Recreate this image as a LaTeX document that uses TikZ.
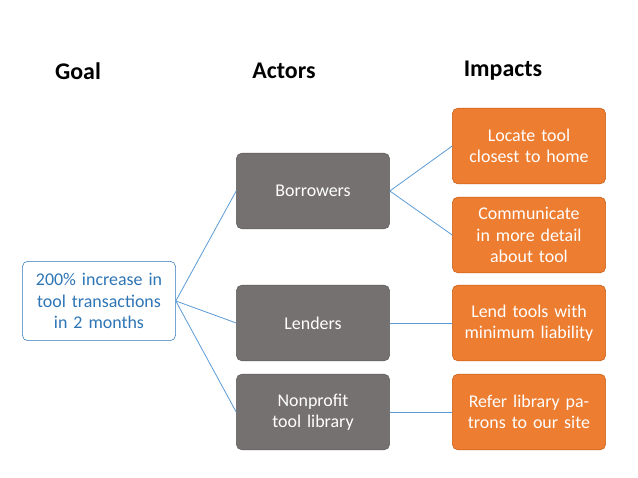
\documentclass[tikz,border=0pt]{standalone}
\usepackage{fontspec}
\setmainfont{Carlito}
\definecolor{actor}{HTML}{767171}
\definecolor{imp}{HTML}{ED7D31}
\definecolor{impd}{HTML}{C55A11}
\definecolor{goalc}{HTML}{2E75B6}
\definecolor{lnk}{HTML}{5B9BD5}
\begin{document}
\begin{tikzpicture}[x=0.02646cm,y=-0.02646cm,
  box/.style={rounded corners=4pt,minimum width=153\pgflinewidth,text width=3.7cm,align=center,minimum width=4.05cm,minimum height=2.0cm,font=\fontsize{13.5}{16}\selectfont,inner sep=2pt},
  actorbox/.style={box,fill=actor,draw=actor!80!black,text=white},
  impbox/.style={box,fill=imp,draw=impd,text=white},
  goalbox/.style={box,draw=goalc,fill=white,text=goalc},
  head/.style={font=\fontsize{18}{22}\selectfont\bfseries},
  link/.style={draw=lnk,line width=0.6pt}]
\useasboundingbox (0,0) rectangle (638,478);
\node[head] (hg) at (78,71) {Goal};
\node[head] (ha) at (284,71) {Actors};
\node[head] (hi) at (503,71) {Impacts};
\node[goalbox,minimum height=2.1cm] (g) at (99,301) {200\% increase in tool transactions in 2 months};
\node[actorbox] (a1) at (313,191) {Borrowers};
\node[actorbox] (a2) at (313,323) {Lenders};
\node[actorbox] (a3) at (313,412) {Nonprofit tool library};
\node[impbox] (i1) at (529,146) {Locate tool closest to home};
\node[impbox] (i2) at (529,235) {Communicate in more detail about tool};
\node[impbox] (i3) at (529,323) {Lend tools with minimum liability};
\node[impbox] (i4) at (529,412) {Refer library patrons to our site};
\draw[link] (g.east) -- (a1.west);
\draw[link] (g.east) -- (a2.west);
\draw[link] (g.east) -- (a3.west);
\draw[link] (a1.east) -- (i1.west);
\draw[link] (a1.east) -- (i2.west);
\draw[link] (a2.east) -- (i3.west);
\draw[link] (a3.east) -- (i4.west);
\end{tikzpicture}
\end{document}
